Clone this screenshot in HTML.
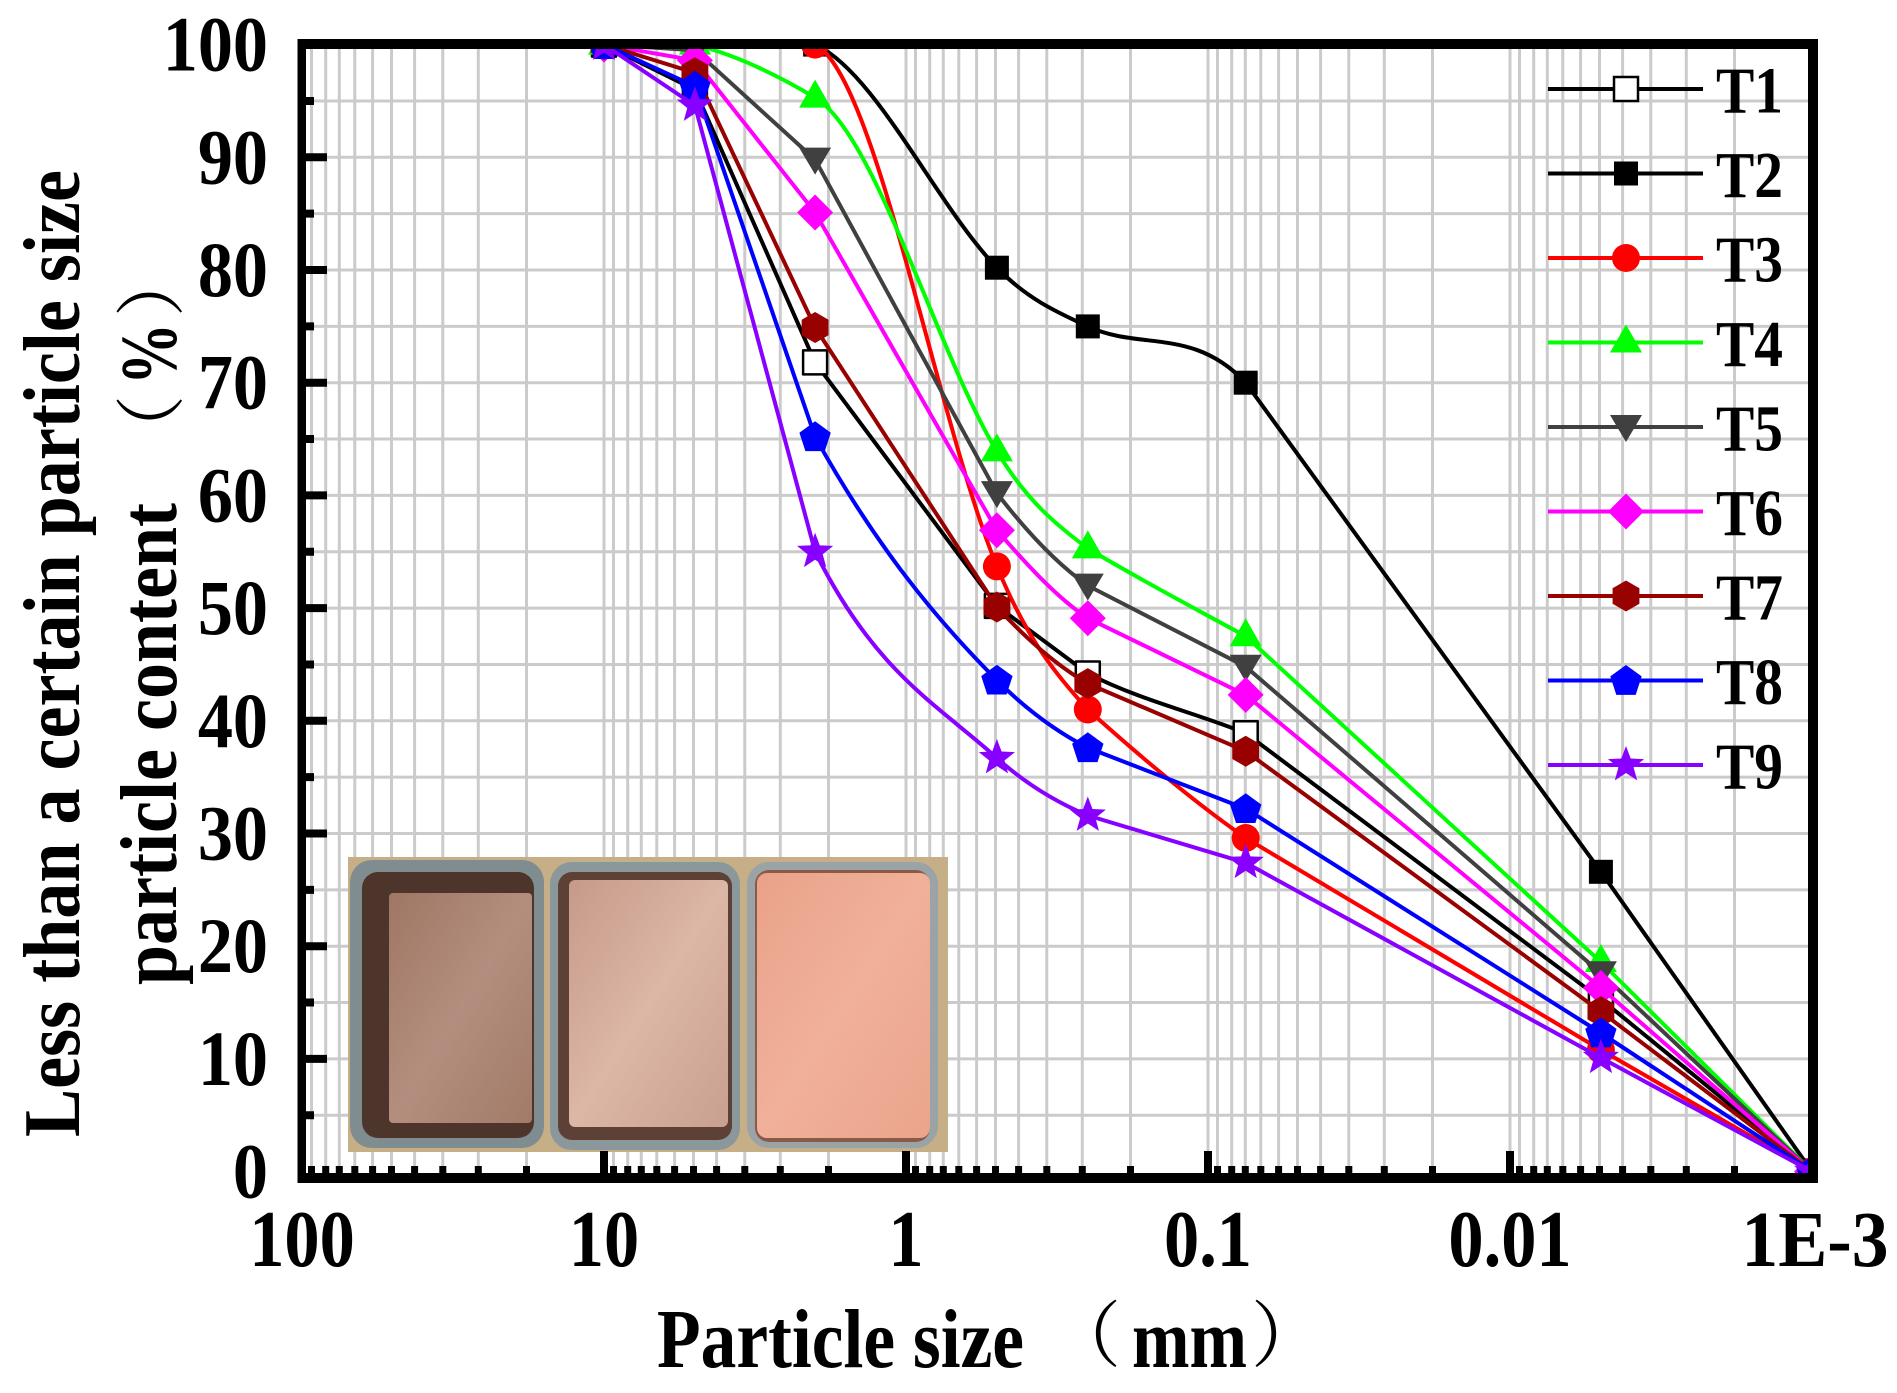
<!DOCTYPE html>
<html><head><meta charset="utf-8">
<style>
html,body{margin:0;padding:0;background:#fff;}
svg{display:block;}
text{font-family:"Liberation Serif","Noto Serif CJK SC",serif;font-weight:bold;fill:#000;}
.cjk{font-family:"Noto Serif CJK SC","Noto Sans CJK SC",serif;font-weight:normal;}
</style></head>
<body>
<svg width="1897" height="1393" viewBox="0 0 1897 1393" xmlns="http://www.w3.org/2000/svg" xmlns:xlink="http://www.w3.org/1999/xlink">
<defs>
<clipPath id="cp"><rect x="302" y="44" width="1510" height="1130"/></clipPath>
<linearGradient id="g2" x1="0" y1="0" x2="1" y2="1"><stop offset="0" stop-color="#c69a88"/><stop offset="0.5" stop-color="#dcb6a6"/><stop offset="1" stop-color="#c9a090"/></linearGradient>
<linearGradient id="g3" x1="0" y1="0" x2="1" y2="1"><stop offset="0" stop-color="#e9a289"/><stop offset="0.5" stop-color="#f1b09a"/><stop offset="1" stop-color="#eaa48b"/></linearGradient>
<linearGradient id="g1" x1="0" y1="0" x2="1" y2="1"><stop offset="0" stop-color="#a07664"/><stop offset="0.5" stop-color="#b38e7e"/><stop offset="1" stop-color="#a27a68"/></linearGradient>
<rect id="m1" x="-12" y="-12" width="24" height="24" fill="#fff" stroke="#000" stroke-width="2.5"/>
<rect id="m2" x="-12" y="-12" width="24" height="24" fill="#000"/>
<circle id="m3" cx="0" cy="0" r="14" fill="#ff0000"/>
<polygon id="m4" points="0,-18 16,10 -16,10" fill="#00ff00"/>
<polygon id="m5" points="0,15 16,-12 -16,-12" fill="#404040"/>
<polygon id="m6" points="0,-18 18,0 0,18 -18,0" fill="#ff00ff"/>
<polygon id="m7" points="0,-15.5 13.42,-7.75 13.42,7.75 0,15.5 -13.42,7.75 -13.42,-7.75" fill="#990000"/>
<polygon id="m8" points="0,-15.5 15.69,-4.1 9.7,14.35 -9.7,14.35 -15.69,-4.1" fill="#0000ff"/>
<polygon id="m9" points="0,-19 4.7,-6.47 18.07,-5.87 7.61,2.47 11.17,15.37 0,8 -11.17,15.37 -7.61,2.47 -18.07,-5.87 -4.7,-6.47" fill="#8800ff"/>
</defs>
<rect width="1897" height="1393" fill="#fff"/>

<!-- grid -->
<path fill="none" stroke="#cbcbcb" stroke-width="3" d="
M311.5 44V1175M325.7 44V1175M339.3 44V1175M354.8 44V1175M372.6 44V1175M391.5 44V1175M414.6 44V1175M442.8 44V1175M478.3 44V1175M526.5 44V1175
M604 44V1175M613.5 44V1175M627.7 44V1175M641.3 44V1175M656.8 44V1175M674.6 44V1175M693.5 44V1175M716.6 44V1175M744.8 44V1175M780.3 44V1175M828.5 44V1175
M906 44V1175M915.5 44V1175M929.7 44V1175M943.3 44V1175M958.8 44V1175M976.6 44V1175M995.5 44V1175M1018.6 44V1175M1046.8 44V1175M1082.3 44V1175M1130.5 44V1175
M1208 44V1175M1217.5 44V1175M1231.7 44V1175M1245.3 44V1175M1260.8 44V1175M1278.6 44V1175M1297.5 44V1175M1320.6 44V1175M1348.8 44V1175M1384.3 44V1175M1432.5 44V1175
M1510 44V1175M1519.5 44V1175M1533.7 44V1175M1547.3 44V1175M1562.8 44V1175M1580.6 44V1175M1599.5 44V1175M1622.6 44V1175M1650.8 44V1175M1686.3 44V1175M1734.5 44V1175
M302 100.95H1812M302 157.3H1812M302 213.65H1812M302 270H1812M302 326.35H1812M302 382.7H1812M302 439.05H1812M302 495.4H1812M302 551.75H1812M302 608.1H1812
M302 664.45H1812M302 720.8H1812M302 777.15H1812M302 833.5H1812M302 889.85H1812M302 946.2H1812M302 1002.55H1812M302 1058.9H1812M302 1115.25H1812"/>

<!-- inset photo -->
<g>
<rect x="348" y="857" width="600" height="295" fill="#c6ae86"/>
<rect x="350" y="860" width="194" height="288" rx="22" fill="#7f8c90"/>
<rect x="362" y="872" width="172" height="266" rx="16" fill="#4d352c"/>
<rect x="389" y="893" width="143" height="230" rx="4" fill="url(#g1)"/>
<rect x="550" y="862" width="190" height="288" rx="22" fill="#8a979b"/>
<rect x="558" y="872" width="174" height="268" rx="14" fill="#5d4036"/>
<rect x="569" y="880" width="159" height="247" rx="6" fill="url(#g2)"/>
<rect x="747" y="862" width="191" height="286" rx="22" fill="#9aa4a6"/>
<rect x="755" y="870" width="175" height="272" rx="14" fill="#8a5a48"/>
<rect x="757" y="873" width="173" height="265" rx="10" fill="url(#g3)"/>
</g>

<!-- series -->
<g clip-path="url(#cp)" fill="none" stroke-width="4" stroke-linejoin="round">
<path stroke="#000" d="M604,44.6 L694.9,89.7 L815.1,362.4 L996.9,605.9 L1087.8,673.5 C1140.4,700.4 1193.1,712 1245.7,733.2 L1600.9,999.2 L1812,1171.6"/>
<g><use href="#m1" x="604" y="44.6"/><use href="#m1" x="694.9" y="89.7"/><use href="#m1" x="815.1" y="362.4"/><use href="#m1" x="996.9" y="605.9"/><use href="#m1" x="1087.8" y="673.5"/><use href="#m1" x="1245.7" y="733.2"/><use href="#m1" x="1600.9" y="999.2"/><use href="#m1" x="1812" y="1171.6"/></g>

<path stroke="#000" d="M604,44.6 L815.1,44.6 C875.7,71.9 936.3,205.1 996.9,267.7 C1027.2,299 1057.5,312.4 1087.8,326.4 C1140.4,350.7 1193.1,326.8 1245.7,382.7 L1600.9,871.8 L1812,1171.6"/>
<g><use href="#m2" x="604" y="44.6"/><use href="#m2" x="694.9" y="44.6"/><use href="#m2" x="815.1" y="44.6"/><use href="#m2" x="996.9" y="267.7"/><use href="#m2" x="1087.8" y="326.4"/><use href="#m2" x="1245.7" y="382.7"/><use href="#m2" x="1600.9" y="871.8"/><use href="#m2" x="1812" y="1171.6"/></g>

<path stroke="#ff0000" d="M604,44.6 L815.1,44.6 C875.7,74.9 936.3,418.7 996.9,566.4 C1027.2,640.3 1057.5,676.4 1087.8,709.5 C1140.4,756.9 1193.1,801.2 1245.7,838 L1600.9,1049.9 L1812,1171.6"/>
<g><use href="#m3" x="604" y="44.6"/><use href="#m3" x="694.9" y="44.6"/><use href="#m3" x="815.1" y="44.6"/><use href="#m3" x="996.9" y="566.4"/><use href="#m3" x="1087.8" y="709.5"/><use href="#m3" x="1245.7" y="838"/><use href="#m3" x="1600.9" y="1049.9"/><use href="#m3" x="1812" y="1171.6"/></g>

<path stroke="#00ff00" d="M604,44.6 L694.9,44.6 C735,54.7 775,73.6 815.1,97.6 C875.7,134 936.3,351.2 996.9,451.4 C1027.2,501.5 1057.5,525.9 1087.8,548.4 C1140.4,580 1193.1,607.4 1245.7,636.3 L1600.9,962 L1812,1171.6"/>
<g><use href="#m4" x="604" y="44.6"/><use href="#m4" x="694.9" y="44.6"/><use href="#m4" x="815.1" y="97.6"/><use href="#m4" x="996.9" y="451.4"/><use href="#m4" x="1087.8" y="548.4"/><use href="#m4" x="1245.7" y="636.3"/><use href="#m4" x="1600.9" y="962"/><use href="#m4" x="1812" y="1171.6"/></g>

<path stroke="#404040" d="M604,44.6 L694.9,50.2 L815.1,159.6 L996.9,493.1 C1027.2,532.5 1057.5,564.4 1087.8,585.6 L1245.7,666.7 L1600.9,973.2 L1812,1171.6"/>
<g><use href="#m5" x="604" y="44.6"/><use href="#m5" x="694.9" y="50.2"/><use href="#m5" x="815.1" y="159.6"/><use href="#m5" x="996.9" y="493.1"/><use href="#m5" x="1087.8" y="585.6"/><use href="#m5" x="1245.7" y="666.7"/><use href="#m5" x="1600.9" y="973.2"/><use href="#m5" x="1812" y="1171.6"/></g>

<path stroke="#ff00ff" d="M604,44.6 L694.9,60.4 L815.1,212.5 L996.9,530.3 C1027.2,565.1 1057.5,598.2 1087.8,618.2 L1245.7,694.9 L1600.9,987.9 L1812,1171.6"/>
<g><use href="#m6" x="604" y="44.6"/><use href="#m6" x="694.9" y="60.4"/><use href="#m6" x="815.1" y="212.5"/><use href="#m6" x="996.9" y="530.3"/><use href="#m6" x="1087.8" y="618.2"/><use href="#m6" x="1245.7" y="694.9"/><use href="#m6" x="1600.9" y="987.9"/><use href="#m6" x="1812" y="1171.6"/></g>

<path stroke="#990000" d="M604,44.6 L694.9,72.8 L815.1,327.5 L996.9,607 C1027.2,640 1057.5,666 1087.8,683.6 L1245.7,751.2 L1600.9,1011.6 L1812,1171.6"/>
<g><use href="#m7" x="604" y="44.6"/><use href="#m7" x="694.9" y="72.8"/><use href="#m7" x="815.1" y="327.5"/><use href="#m7" x="996.9" y="607"/><use href="#m7" x="1087.8" y="683.6"/><use href="#m7" x="1245.7" y="751.2"/><use href="#m7" x="1600.9" y="1011.6"/><use href="#m7" x="1812" y="1171.6"/></g>

<path stroke="#0000ff" d="M604,44.6 L694.9,86.3 L815.1,436.8 C875.7,545.9 936.3,619.6 996.9,680.2 C1027.2,710.5 1057.5,732.2 1087.8,747.8 L1245.7,808.7 L1600.9,1033 L1812,1171.6"/>
<g><use href="#m8" x="604" y="44.6"/><use href="#m8" x="694.9" y="86.3"/><use href="#m8" x="815.1" y="436.8"/><use href="#m8" x="996.9" y="680.2"/><use href="#m8" x="1087.8" y="747.8"/><use href="#m8" x="1245.7" y="808.7"/><use href="#m8" x="1600.9" y="1033"/><use href="#m8" x="1812" y="1171.6"/></g>

<path stroke="#8800ff" d="M604,44.6 L694.9,105.5 L815.1,551.8 C875.7,673 936.3,703.5 996.9,758 C1027.2,785.3 1057.5,802.7 1087.8,815.5 L1245.7,862.8 L1600.9,1057.8 L1812,1171.6"/>
<g><use href="#m9" x="604" y="44.6"/><use href="#m9" x="694.9" y="105.5"/><use href="#m9" x="815.1" y="551.8"/><use href="#m9" x="996.9" y="758"/><use href="#m9" x="1087.8" y="815.5"/><use href="#m9" x="1245.7" y="862.8"/><use href="#m9" x="1600.9" y="1057.8"/><use href="#m9" x="1812" y="1171.6"/></g>
</g>

<!-- legend -->
<g stroke-width="4">
<line x1="1548" x2="1703" y1="89" y2="89" stroke="#000"/>
<line x1="1548" x2="1703" y1="173.5" y2="173.5" stroke="#000"/>
<line x1="1548" x2="1703" y1="258" y2="258" stroke="#ff0000"/>
<line x1="1548" x2="1703" y1="342.5" y2="342.5" stroke="#00ff00"/>
<line x1="1548" x2="1703" y1="427" y2="427" stroke="#404040"/>
<line x1="1548" x2="1703" y1="511.5" y2="511.5" stroke="#ff00ff"/>
<line x1="1548" x2="1703" y1="596" y2="596" stroke="#990000"/>
<line x1="1548" x2="1703" y1="680.5" y2="680.5" stroke="#0000ff"/>
<line x1="1548" x2="1703" y1="765" y2="765" stroke="#8800ff"/>
</g>
<use href="#m1" x="1626" y="89"/>
<use href="#m2" x="1626" y="173.5"/>
<use href="#m3" x="1626" y="258"/>
<use href="#m4" x="1626" y="342.5"/>
<use href="#m5" x="1626" y="427"/>
<use href="#m6" x="1626" y="511.5"/>
<use href="#m7" x="1626" y="596"/>
<use href="#m8" x="1626" y="680.5"/>
<use href="#m9" x="1626" y="765"/>
<g font-size="66">
<text transform="translate(1716,112.5) scale(0.87,1)">T1</text>
<text transform="translate(1716,197) scale(0.87,1)">T2</text>
<text transform="translate(1716,281.5) scale(0.87,1)">T3</text>
<text transform="translate(1716,366) scale(0.87,1)">T4</text>
<text transform="translate(1716,450.5) scale(0.87,1)">T5</text>
<text transform="translate(1716,535) scale(0.87,1)">T6</text>
<text transform="translate(1716,619.5) scale(0.87,1)">T7</text>
<text transform="translate(1716,704) scale(0.87,1)">T8</text>
<text transform="translate(1716,788.5) scale(0.87,1)">T9</text>
</g>

<!-- ticks -->
<path fill="none" stroke="#000" stroke-width="8" d="M306 157.3H327M306 270H327M306 382.7H327M306 495.4H327M306 608.1H327M306 720.8H327M306 833.5H327M306 946.2H327M306 1058.9H327
M306 100.95H314M306 213.65H314M306 326.35H314M306 439.05H314M306 551.75H314M306 664.45H314M306 777.15H314M306 889.85H314M306 1002.55H314M306 1115.25H314
M604 1151V1174M906 1151V1174M1208 1151V1174M1510 1151V1174"/>
<path fill="none" stroke="#000" stroke-width="7" d="
M311.5 1166V1174M325.7 1166V1174M339.3 1166V1174M354.8 1166V1174M372.6 1166V1174M391.5 1166V1174M414.6 1166V1174M442.8 1166V1174M478.3 1166V1174M526.5 1166V1174
M613.5 1166V1174M627.7 1166V1174M641.3 1166V1174M656.8 1166V1174M674.6 1166V1174M693.5 1166V1174M716.6 1166V1174M744.8 1166V1174M780.3 1166V1174M828.5 1166V1174
M915.5 1166V1174M929.7 1166V1174M943.3 1166V1174M958.8 1166V1174M976.6 1166V1174M995.5 1166V1174M1018.6 1166V1174M1046.8 1166V1174M1082.3 1166V1174M1130.5 1166V1174
M1217.5 1166V1174M1231.7 1166V1174M1245.3 1166V1174M1260.8 1166V1174M1278.6 1166V1174M1297.5 1166V1174M1320.6 1166V1174M1348.8 1166V1174M1384.3 1166V1174M1432.5 1166V1174
M1519.5 1166V1174M1533.7 1166V1174M1547.3 1166V1174M1562.8 1166V1174M1580.6 1166V1174M1599.5 1166V1174M1622.6 1166V1174M1650.8 1166V1174M1686.3 1166V1174M1734.5 1166V1174"/>

<!-- frame -->
<rect x="297.5" y="39" width="1520.5" height="10" fill="#000"/>
<rect x="297.5" y="1173" width="1520.5" height="10" fill="#000"/>
<rect x="297.5" y="39" width="8.5" height="1144" fill="#000"/>
<rect x="1808" y="39" width="10" height="1144" fill="#000"/>

<!-- y tick labels -->
<g font-size="78" text-anchor="end">
<text transform="translate(268,70.6) scale(0.9,1)">100</text>
<text transform="translate(268,183.3) scale(0.9,1)">90</text>
<text transform="translate(268,296) scale(0.9,1)">80</text>
<text transform="translate(268,408.7) scale(0.9,1)">70</text>
<text transform="translate(268,521.4) scale(0.9,1)">60</text>
<text transform="translate(268,634.1) scale(0.9,1)">50</text>
<text transform="translate(268,746.8) scale(0.9,1)">40</text>
<text transform="translate(268,859.5) scale(0.9,1)">30</text>
<text transform="translate(268,972.2) scale(0.9,1)">20</text>
<text transform="translate(268,1084.9) scale(0.9,1)">10</text>
<text transform="translate(268,1197.6) scale(0.9,1)">0</text>
</g>
<!-- x tick labels -->
<g font-size="80" text-anchor="middle">
<text transform="translate(302,1266) scale(0.88,1)">100</text>
<text transform="translate(604,1266) scale(0.88,1)">10</text>
<text transform="translate(906,1266) scale(0.88,1)">1</text>
<text transform="translate(1208,1266) scale(0.88,1)">0.1</text>
<text transform="translate(1510,1266) scale(0.88,1)">0.01</text>
<text transform="translate(1815,1266) scale(0.92,1)">1E-3</text>
</g>

<!-- x title -->
<text x="657" y="1367" font-size="84" textLength="367" lengthAdjust="spacingAndGlyphs">Particle size</text>
<text class="cjk" x="1049" y="1361" font-size="72">（</text>
<text x="1132" y="1367" font-size="84" textLength="115" lengthAdjust="spacingAndGlyphs">mm</text>
<text class="cjk" x="1251" y="1361" font-size="72">）</text>

<!-- y title -->
<text transform="translate(79,1137) rotate(-90)" font-size="80" textLength="967" lengthAdjust="spacingAndGlyphs">Less than a certain particle size</text>
<text transform="translate(176,985) rotate(-90)" font-size="80" textLength="482" lengthAdjust="spacingAndGlyphs">particle content</text>
<text class="cjk" transform="translate(176,465) rotate(-90)" font-size="70">（</text>
<text transform="translate(176,385) rotate(-90)" font-size="80" textLength="62" lengthAdjust="spacingAndGlyphs">%</text>
<text class="cjk" transform="translate(176,317) rotate(-90)" font-size="70">）</text>
</svg>
</body></html>
